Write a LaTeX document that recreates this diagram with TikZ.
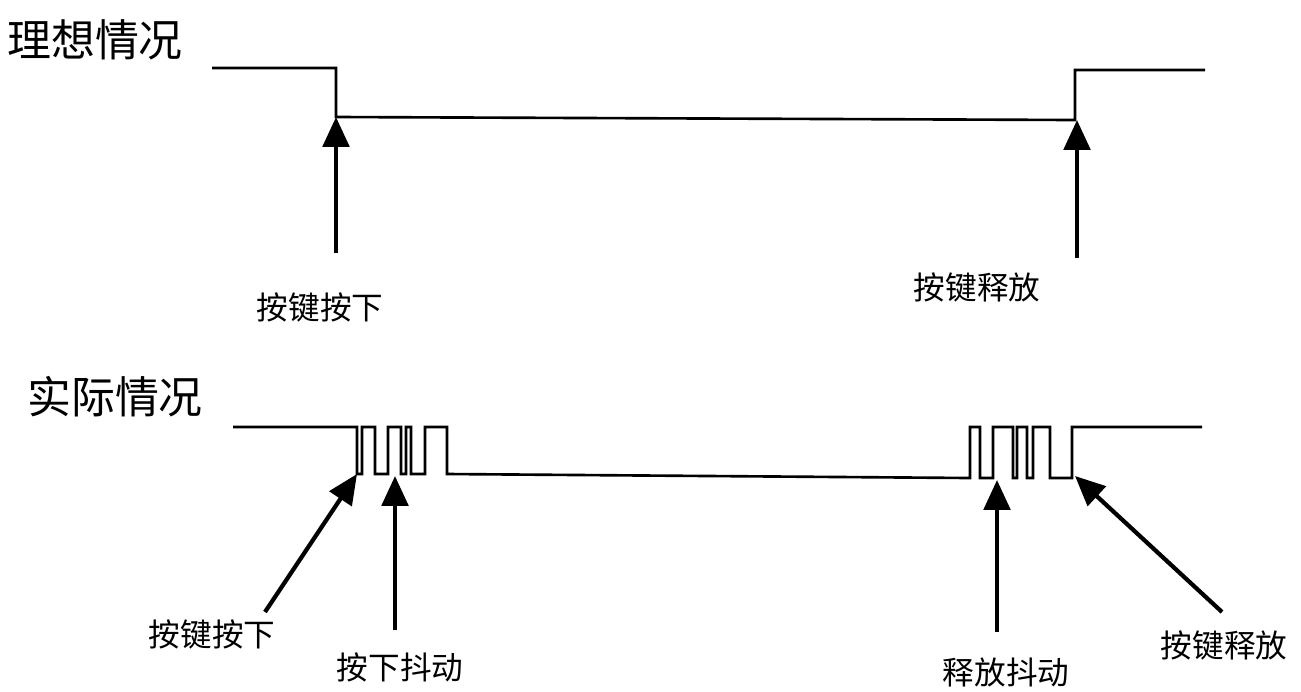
\documentclass[tikz,border=0pt]{standalone}
\usepackage{fontspec}
\newfontfamily\cjk{Noto Sans CJK SC}
\usetikzlibrary{arrows.meta}
\begin{document}
\begin{tikzpicture}[x=0.02cm,y=-0.02cm,
    wave/.style={line width=1.5pt,line join=miter},
    keyarrow/.style={line width=2.4pt,-{Triangle[length=17pt,width=15pt]}},
    title/.style={font=\cjk\fontsize{25}{28}\selectfont},
    label/.style={font=\cjk\fontsize{18}{20}\selectfont}]
    \useasboundingbox (0,0) rectangle (1301,691);

    % Ideal case
    \node[title] (ideal) at (95,40) {理想情况};
    \draw[wave] (212,68) -- (336,68) -- (336,117) -- (1075,120) -- (1075,70) -- (1205,70);
    \coordinate (press) at (336,117);
    \coordinate (release) at (1077,120);
    \node[label] (presslbl) at (320,307) {按键按下};
    \node[label] (releaselbl) at (977,287) {按键释放};
    \draw[keyarrow] (336,253) -- (press);
    \draw[keyarrow] (1077,258) -- (release);

    % Actual case
    \node[title] (actual) at (115,397) {实际情况};
    \draw[wave] (233,427) -- (357,427) -- (357,474) -- (362,474) -- (362,427)
        -- (375,427) -- (375,474) -- (388,474) -- (388,427) -- (401,427)
        -- (401,474) -- (406,474) -- (406,427) -- (411,427) -- (411,474)
        -- (425,474) -- (425,427) -- (447,427) -- (447,474) -- (970,478)
        -- (970,427) -- (980,427) -- (980,478) -- (993,478) -- (993,427)
        -- (1013,427) -- (1013,478) -- (1017,478) -- (1017,427) -- (1027,427)
        -- (1027,478) -- (1033,478) -- (1033,427) -- (1050,427) -- (1050,478)
        -- (1072,478) -- (1072,427) -- (1202,427);
    \coordinate (bpress) at (357,474);
    \coordinate (bounce1) at (395,476);
    \coordinate (bounce2) at (997,480);
    \coordinate (brelease) at (1075,476);
    \node[label] (bpresslbl) at (212,634) {按键按下};
    \node[label] (bounce1lbl) at (400,667) {按下抖动};
    \node[label] (bounce2lbl) at (1006,672) {释放抖动};
    \node[label] (breleaselbl) at (1224,645) {按键释放};
    \draw[keyarrow] (265,612) -- (bpress);
    \draw[keyarrow] (395,630) -- (bounce1);
    \draw[keyarrow] (997,632) -- (bounce2);
    \draw[keyarrow] (1222,612) -- (brelease);
\end{tikzpicture}
\end{document}
